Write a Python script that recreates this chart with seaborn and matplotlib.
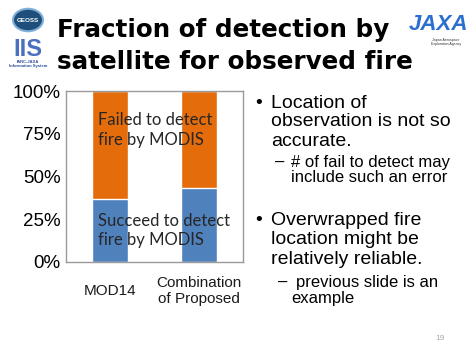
import matplotlib
matplotlib.use("Agg")
import matplotlib.pyplot as plt
import seaborn as sns
import pandas as pd
from matplotlib.patches import Circle

categories = ["MOD14", "Combination\nof Proposed"]
succeed = [37, 43]
failed = [63, 57]
yticks = [0, 25, 50, 75, 100]
yticklabels = ["0%", "25%", "50%", "75%", "100%"]

BLUE = "#4F81BD"
ORANGE = "#E46C0A"

sns.set_theme(style="white")
plt.rcParams["font.family"] = ["Liberation Sans", "DejaVu Sans"]
plt.rcParams["text.color"] = "black"

W, H = 474, 355
fig = plt.figure(figsize=(W / 100, H / 100), dpi=100)
fig.patch.set_facecolor("white")

def fx(x):
    return x / W

def fy(y):
    return 1 - y / H

ax = fig.add_axes([fx(66), fy(262), (243 - 66) / W, (262 - 91) / H])

df = pd.DataFrame({
    "cat": categories,
    "succeed": succeed,
    "total": [s + f for s, f in zip(succeed, failed)],
})
sns.barplot(data=df, x="cat", y="total", color=ORANGE, width=0.41,
            saturation=1, ax=ax)
sns.barplot(data=df, x="cat", y="succeed", color=BLUE, width=0.41,
            saturation=1, ax=ax)

ax.set_xlim(-0.5, 1.5)
ax.set_ylim(0, 100)
ax.set_xlabel("")
ax.set_ylabel("")
ax.set_yticks(yticks)
ax.set_yticklabels(yticklabels, fontsize=13.5, color="black")
ax.tick_params(axis="y", length=0, pad=4)
ax.set_xticks([0, 1])
ax.set_xticklabels(categories, fontsize=11, color="#1a1a1a",
                   linespacing=1.15)
for lbl in ax.get_xticklabels():
    lbl.set_verticalalignment("center")
ax.set_xticks([-0.5, 0.5, 1.5], minor=True)
ax.tick_params(axis="x", which="major", length=0, pad=21)
ax.tick_params(axis="x", which="minor", length=5, width=1,
               color="#888888", direction="out")
for s in ax.spines.values():
    s.set_visible(True)
    s.set_color("#9a9a9a")
    s.set_linewidth(1)

# in-bar annotations
ax.text(-0.14, 77, "Failed to detect\nfire by MODIS", fontsize=12,
        family=["Lato", "DejaVu Sans"], color="#262626", va="center",
        ha="left", linespacing=1.3)
ax.text(-0.14, 18.4, "Succeed to detect\nfire by MODIS", fontsize=12,
        family=["Lato", "DejaVu Sans"], color="#262626", va="center",
        ha="left", linespacing=1.3)

# title
fig.text(fx(57), fy(30), "Fraction of detection by", fontsize=17.7,
         fontweight="bold", family=["DejaVu Sans"], va="center", ha="left")
fig.text(fx(57), fy(62), "satellite for observed fire", fontsize=17.7,
         fontweight="bold", family=["DejaVu Sans"], va="center", ha="left")

# logos (approximated as text)
fig.patches.append(Circle((fx(28), fy(20)), 15 / W, transform=fig.transFigure,
                          facecolor="#1d4f7a", edgecolor="#7fb0d8", lw=1.5))
fig.text(fx(28), fy(20), "GEOSS", fontsize=4.5, color="white", ha="center",
         va="center", fontweight="bold")
fig.text(fx(28), fy(49), "IIS", fontsize=17, color="#4a6fc0", ha="center",
         va="center", fontweight="bold")
fig.text(fx(28), fy(64), "IARC-JAXA\nInformation System", fontsize=3,
         color="#2d4f9a", ha="center", va="center", fontweight="bold")
fig.text(fx(438), fy(24), "JAXA", fontsize=16, color="#2a6fd0", ha="center",
         va="center", fontweight="bold", style="italic")
fig.text(fx(446), fy(42), "Japan Aerospace\nExploration Agency", fontsize=2.5,
         color="#333333", ha="center", va="center")

# bullet text
bfont = 14
sfont = 12
fig.text(fx(255), fy(103), "•", fontsize=bfont, va="center", ha="left")
fig.text(fx(271), fy(103), "Location of", fontsize=bfont, va="center")
fig.text(fx(271), fy(122), "observation is not so", fontsize=bfont, va="center")
fig.text(fx(271), fy(141), "accurate.", fontsize=bfont, va="center")
fig.text(fx(275), fy(162), "–", fontsize=sfont, va="center")
fig.text(fx(291), fy(162), "# of fail to detect may", fontsize=sfont, va="center")
fig.text(fx(291), fy(178), "include such an error", fontsize=sfont, va="center")

fig.text(fx(255), fy(221), "•", fontsize=bfont, va="center", ha="left")
fig.text(fx(271), fy(221), "Overwrapped fire", fontsize=bfont, va="center")
fig.text(fx(271), fy(240), "location might be", fontsize=bfont, va="center")
fig.text(fx(271), fy(260), "relatively reliable.", fontsize=bfont, va="center")
fig.text(fx(278), fy(282), "–", fontsize=sfont, va="center")
fig.text(fx(296), fy(282), "previous slide is an", fontsize=sfont, va="center")
fig.text(fx(291), fy(298), "example", fontsize=sfont, va="center")

fig.text(fx(440), fy(338), "19", fontsize=6, color="#aaaaaa", ha="center",
         va="center")

fig.savefig("out.png", dpi=100)
